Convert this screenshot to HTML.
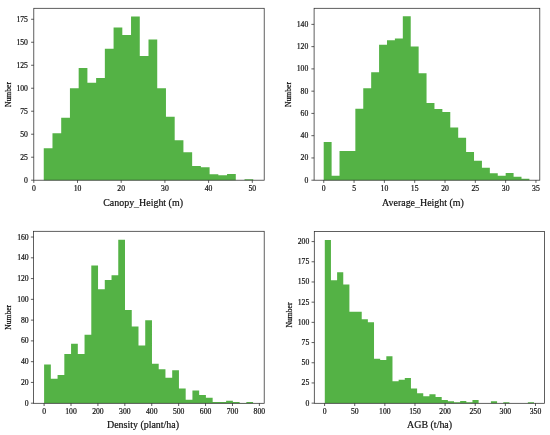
<!DOCTYPE html>
<html><head><meta charset="utf-8"><title>Histograms</title>
<style>
html,body{margin:0;padding:0;background:#fff;}
body{width:550px;height:435px;overflow:hidden;}
svg{display:block;font-family:"Liberation Serif",serif;}
text{stroke:#111;stroke-width:0.2px;}
</style></head><body>
<svg width="550" height="435" viewBox="0 0 550 435">
<rect x="0" y="0" width="550" height="435" fill="#ffffff"/>
<path d="M43.75,180.20L43.75,148.29L52.48,148.29L52.48,133.30L61.21,133.30L61.21,117.67L69.94,117.67L69.94,88.24L78.67,88.24L78.67,68.01L87.40,68.01L87.40,82.72L96.12,82.72L96.12,78.12L104.85,78.12L104.85,48.70L113.58,48.70L113.58,27.55L122.31,27.55L122.31,34.90L131.04,34.90L131.04,16.51L139.77,16.51L139.77,56.05L148.50,56.05L148.50,39.50L157.23,39.50L157.23,88.24L165.96,88.24L165.96,116.75L174.69,116.75L174.69,140.20L183.42,140.20L183.42,152.15L192.15,152.15L192.15,165.95L200.87,165.95L200.88,167.33L209.60,167.33L209.60,174.22L218.33,174.22L218.33,175.23L227.06,175.23L227.06,173.95L235.79,173.95L235.79,180.20L244.52,180.20L244.52,179.28L253.25,179.28L253.25,180.20Z" fill="#54b245"/>
<rect x="33.80" y="8.30" width="230.40" height="171.90" fill="none" stroke="#2a2a2a" stroke-width="0.75"/>
<line x1="33.80" y1="180.20" x2="33.80" y2="182.90" stroke="#2a2a2a" stroke-width="0.75"/>
<text x="33.80" y="190.70" font-size="7.7" text-anchor="middle" fill="#111">0</text>
<line x1="77.50" y1="180.20" x2="77.50" y2="182.90" stroke="#2a2a2a" stroke-width="0.75"/>
<text x="77.50" y="190.70" font-size="7.7" text-anchor="middle" fill="#111">10</text>
<line x1="121.20" y1="180.20" x2="121.20" y2="182.90" stroke="#2a2a2a" stroke-width="0.75"/>
<text x="121.20" y="190.70" font-size="7.7" text-anchor="middle" fill="#111">20</text>
<line x1="164.90" y1="180.20" x2="164.90" y2="182.90" stroke="#2a2a2a" stroke-width="0.75"/>
<text x="164.90" y="190.70" font-size="7.7" text-anchor="middle" fill="#111">30</text>
<line x1="208.60" y1="180.20" x2="208.60" y2="182.90" stroke="#2a2a2a" stroke-width="0.75"/>
<text x="208.60" y="190.70" font-size="7.7" text-anchor="middle" fill="#111">40</text>
<line x1="252.30" y1="180.20" x2="252.30" y2="182.90" stroke="#2a2a2a" stroke-width="0.75"/>
<text x="252.30" y="190.70" font-size="7.7" text-anchor="middle" fill="#111">50</text>
<line x1="31.10" y1="180.20" x2="33.80" y2="180.20" stroke="#2a2a2a" stroke-width="0.75"/>
<text x="27.95" y="182.70" font-size="7.7" text-anchor="end" fill="#111">0</text>
<line x1="31.10" y1="157.21" x2="33.80" y2="157.21" stroke="#2a2a2a" stroke-width="0.75"/>
<text x="27.95" y="159.71" font-size="7.7" text-anchor="end" fill="#111">25</text>
<line x1="31.10" y1="134.22" x2="33.80" y2="134.22" stroke="#2a2a2a" stroke-width="0.75"/>
<text x="27.95" y="136.72" font-size="7.7" text-anchor="end" fill="#111">50</text>
<line x1="31.10" y1="111.23" x2="33.80" y2="111.23" stroke="#2a2a2a" stroke-width="0.75"/>
<text x="27.95" y="113.73" font-size="7.7" text-anchor="end" fill="#111">75</text>
<line x1="31.10" y1="88.24" x2="33.80" y2="88.24" stroke="#2a2a2a" stroke-width="0.75"/>
<text x="27.95" y="90.74" font-size="7.7" text-anchor="end" fill="#111">100</text>
<line x1="31.10" y1="65.25" x2="33.80" y2="65.25" stroke="#2a2a2a" stroke-width="0.75"/>
<text x="27.95" y="67.75" font-size="7.7" text-anchor="end" fill="#111">125</text>
<line x1="31.10" y1="42.26" x2="33.80" y2="42.26" stroke="#2a2a2a" stroke-width="0.75"/>
<text x="27.95" y="44.76" font-size="7.7" text-anchor="end" fill="#111">150</text>
<line x1="31.10" y1="19.27" x2="33.80" y2="19.27" stroke="#2a2a2a" stroke-width="0.75"/>
<text x="27.95" y="21.77" font-size="7.7" text-anchor="end" fill="#111">175</text>
<text x="143.10" y="205.60" font-size="9.95" text-anchor="middle" fill="#111">Canopy_Height (m)</text>
<text transform="translate(11.40,94.50) rotate(-90)" font-size="7.6" text-anchor="middle" fill="#111">Number</text>
<path d="M323.70,180.20L323.70,141.91L331.61,141.91L331.61,175.64L339.52,175.64L339.52,150.93L347.43,150.93L347.43,150.93L355.35,150.93L355.35,108.75L363.26,108.75L363.26,88.27L371.17,88.27L371.17,72.24L379.08,72.24L379.08,44.64L386.99,44.64L386.99,40.18L394.90,40.18L394.90,38.40L402.82,38.40L402.82,16.37L410.73,16.37L410.73,46.42L418.64,46.42L418.64,73.24L426.55,73.24L426.55,102.96L434.46,102.96L434.46,108.97L442.37,108.97L442.37,112.08L450.28,112.08L450.28,127.56L458.20,127.56L458.20,137.68L466.11,137.68L466.11,151.93L474.02,151.93L474.02,160.72L481.93,160.72L481.93,167.73L489.84,167.73L489.84,173.30L497.75,173.30L497.75,175.75L505.67,175.75L505.67,172.97L513.58,172.97L513.58,176.75L521.49,176.75L521.49,178.75L529.40,178.75L529.40,180.20Z" fill="#54b245"/>
<rect x="314.10" y="8.30" width="225.70" height="171.90" fill="none" stroke="#2a2a2a" stroke-width="0.75"/>
<line x1="323.75" y1="180.20" x2="323.75" y2="182.90" stroke="#2a2a2a" stroke-width="0.75"/>
<text x="323.75" y="190.70" font-size="7.7" text-anchor="middle" fill="#111">0</text>
<line x1="354.06" y1="180.20" x2="354.06" y2="182.90" stroke="#2a2a2a" stroke-width="0.75"/>
<text x="354.06" y="190.70" font-size="7.7" text-anchor="middle" fill="#111">5</text>
<line x1="384.38" y1="180.20" x2="384.38" y2="182.90" stroke="#2a2a2a" stroke-width="0.75"/>
<text x="384.38" y="190.70" font-size="7.7" text-anchor="middle" fill="#111">10</text>
<line x1="414.69" y1="180.20" x2="414.69" y2="182.90" stroke="#2a2a2a" stroke-width="0.75"/>
<text x="414.69" y="190.70" font-size="7.7" text-anchor="middle" fill="#111">15</text>
<line x1="445.01" y1="180.20" x2="445.01" y2="182.90" stroke="#2a2a2a" stroke-width="0.75"/>
<text x="445.01" y="190.70" font-size="7.7" text-anchor="middle" fill="#111">20</text>
<line x1="475.32" y1="180.20" x2="475.32" y2="182.90" stroke="#2a2a2a" stroke-width="0.75"/>
<text x="475.32" y="190.70" font-size="7.7" text-anchor="middle" fill="#111">25</text>
<line x1="505.64" y1="180.20" x2="505.64" y2="182.90" stroke="#2a2a2a" stroke-width="0.75"/>
<text x="505.64" y="190.70" font-size="7.7" text-anchor="middle" fill="#111">30</text>
<line x1="535.95" y1="180.20" x2="535.95" y2="182.90" stroke="#2a2a2a" stroke-width="0.75"/>
<text x="535.95" y="190.70" font-size="7.7" text-anchor="middle" fill="#111">35</text>
<line x1="311.40" y1="180.20" x2="314.10" y2="180.20" stroke="#2a2a2a" stroke-width="0.75"/>
<text x="308.25" y="182.70" font-size="7.7" text-anchor="end" fill="#111">0</text>
<line x1="311.40" y1="157.94" x2="314.10" y2="157.94" stroke="#2a2a2a" stroke-width="0.75"/>
<text x="308.25" y="160.44" font-size="7.7" text-anchor="end" fill="#111">20</text>
<line x1="311.40" y1="135.68" x2="314.10" y2="135.68" stroke="#2a2a2a" stroke-width="0.75"/>
<text x="308.25" y="138.18" font-size="7.7" text-anchor="end" fill="#111">40</text>
<line x1="311.40" y1="113.42" x2="314.10" y2="113.42" stroke="#2a2a2a" stroke-width="0.75"/>
<text x="308.25" y="115.92" font-size="7.7" text-anchor="end" fill="#111">60</text>
<line x1="311.40" y1="91.16" x2="314.10" y2="91.16" stroke="#2a2a2a" stroke-width="0.75"/>
<text x="308.25" y="93.66" font-size="7.7" text-anchor="end" fill="#111">80</text>
<line x1="311.40" y1="68.90" x2="314.10" y2="68.90" stroke="#2a2a2a" stroke-width="0.75"/>
<text x="308.25" y="71.40" font-size="7.7" text-anchor="end" fill="#111">100</text>
<line x1="311.40" y1="46.64" x2="314.10" y2="46.64" stroke="#2a2a2a" stroke-width="0.75"/>
<text x="308.25" y="49.14" font-size="7.7" text-anchor="end" fill="#111">120</text>
<line x1="311.40" y1="24.38" x2="314.10" y2="24.38" stroke="#2a2a2a" stroke-width="0.75"/>
<text x="308.25" y="26.88" font-size="7.7" text-anchor="end" fill="#111">140</text>
<text x="423.00" y="206.10" font-size="9.95" text-anchor="middle" fill="#111">Average_Height (m)</text>
<text transform="translate(290.90,94.50) rotate(-90)" font-size="7.6" text-anchor="middle" fill="#111">Number</text>
<path d="M44.10,403.30L44.10,364.44L50.84,364.44L50.84,378.73L57.58,378.73L57.58,375.00L64.33,375.00L64.33,354.09L71.07,354.09L71.07,343.85L77.81,343.85L77.81,354.09L84.55,354.09L84.55,334.84L91.29,334.84L91.29,265.39L98.04,265.39L98.04,289.20L104.78,289.20L104.78,279.99L111.52,279.99L111.52,275.23L118.26,275.23L118.26,239.83L125.00,239.83L125.00,310.11L131.75,310.11L131.75,326.46L138.49,326.46L138.49,345.40L145.23,345.40L145.23,320.25L151.97,320.25L151.97,363.72L158.71,363.72L158.71,369.21L165.45,369.21L165.45,377.69L172.20,377.69L172.20,370.24L178.94,370.24L178.94,388.56L185.68,388.56L185.68,399.84L192.42,399.84L192.42,390.53L199.16,390.53L199.16,394.98L205.91,394.98L205.91,397.77L212.65,397.77L212.65,402.01L219.39,402.01L219.39,402.01L226.13,402.01L226.13,400.77L232.87,400.77L232.87,402.01L239.62,402.01L239.62,403.05L246.36,403.05L246.36,402.01L253.10,402.01L253.10,403.30Z" fill="#54b245"/>
<rect x="33.60" y="231.30" width="230.60" height="172.00" fill="none" stroke="#2a2a2a" stroke-width="0.75"/>
<line x1="44.10" y1="403.30" x2="44.10" y2="406.00" stroke="#2a2a2a" stroke-width="0.75"/>
<text x="44.10" y="413.50" font-size="7.7" text-anchor="middle" fill="#111">0</text>
<line x1="71.01" y1="403.30" x2="71.01" y2="406.00" stroke="#2a2a2a" stroke-width="0.75"/>
<text x="71.01" y="413.50" font-size="7.7" text-anchor="middle" fill="#111">100</text>
<line x1="97.92" y1="403.30" x2="97.92" y2="406.00" stroke="#2a2a2a" stroke-width="0.75"/>
<text x="97.92" y="413.50" font-size="7.7" text-anchor="middle" fill="#111">200</text>
<line x1="124.83" y1="403.30" x2="124.83" y2="406.00" stroke="#2a2a2a" stroke-width="0.75"/>
<text x="124.83" y="413.50" font-size="7.7" text-anchor="middle" fill="#111">300</text>
<line x1="151.74" y1="403.30" x2="151.74" y2="406.00" stroke="#2a2a2a" stroke-width="0.75"/>
<text x="151.74" y="413.50" font-size="7.7" text-anchor="middle" fill="#111">400</text>
<line x1="178.65" y1="403.30" x2="178.65" y2="406.00" stroke="#2a2a2a" stroke-width="0.75"/>
<text x="178.65" y="413.50" font-size="7.7" text-anchor="middle" fill="#111">500</text>
<line x1="205.56" y1="403.30" x2="205.56" y2="406.00" stroke="#2a2a2a" stroke-width="0.75"/>
<text x="205.56" y="413.50" font-size="7.7" text-anchor="middle" fill="#111">600</text>
<line x1="232.47" y1="403.30" x2="232.47" y2="406.00" stroke="#2a2a2a" stroke-width="0.75"/>
<text x="232.47" y="413.50" font-size="7.7" text-anchor="middle" fill="#111">700</text>
<line x1="259.38" y1="403.30" x2="259.38" y2="406.00" stroke="#2a2a2a" stroke-width="0.75"/>
<text x="259.38" y="413.50" font-size="7.7" text-anchor="middle" fill="#111">800</text>
<line x1="30.90" y1="403.20" x2="33.60" y2="403.20" stroke="#2a2a2a" stroke-width="0.75"/>
<text x="28.70" y="405.70" font-size="7.7" text-anchor="end" fill="#111">0</text>
<line x1="30.90" y1="382.43" x2="33.60" y2="382.43" stroke="#2a2a2a" stroke-width="0.75"/>
<text x="28.70" y="384.93" font-size="7.7" text-anchor="end" fill="#111">20</text>
<line x1="30.90" y1="361.66" x2="33.60" y2="361.66" stroke="#2a2a2a" stroke-width="0.75"/>
<text x="28.70" y="364.16" font-size="7.7" text-anchor="end" fill="#111">40</text>
<line x1="30.90" y1="340.89" x2="33.60" y2="340.89" stroke="#2a2a2a" stroke-width="0.75"/>
<text x="28.70" y="343.39" font-size="7.7" text-anchor="end" fill="#111">60</text>
<line x1="30.90" y1="320.12" x2="33.60" y2="320.12" stroke="#2a2a2a" stroke-width="0.75"/>
<text x="28.70" y="322.62" font-size="7.7" text-anchor="end" fill="#111">80</text>
<line x1="30.90" y1="299.35" x2="33.60" y2="299.35" stroke="#2a2a2a" stroke-width="0.75"/>
<text x="28.70" y="301.85" font-size="7.7" text-anchor="end" fill="#111">100</text>
<line x1="30.90" y1="278.58" x2="33.60" y2="278.58" stroke="#2a2a2a" stroke-width="0.75"/>
<text x="28.70" y="281.08" font-size="7.7" text-anchor="end" fill="#111">120</text>
<line x1="30.90" y1="257.81" x2="33.60" y2="257.81" stroke="#2a2a2a" stroke-width="0.75"/>
<text x="28.70" y="260.31" font-size="7.7" text-anchor="end" fill="#111">140</text>
<line x1="30.90" y1="237.04" x2="33.60" y2="237.04" stroke="#2a2a2a" stroke-width="0.75"/>
<text x="28.70" y="239.54" font-size="7.7" text-anchor="end" fill="#111">160</text>
<text x="143.00" y="427.70" font-size="9.95" text-anchor="middle" fill="#111">Density (plant/ha)</text>
<text transform="translate(11.40,317.30) rotate(-90)" font-size="7.6" text-anchor="middle" fill="#111">Number</text>
<path d="M324.80,403.30L324.80,239.97L330.95,239.97L330.95,280.36L337.11,280.36L337.11,272.29L343.26,272.29L343.26,284.40L349.41,284.40L349.41,311.87L355.56,311.87L355.56,311.87L361.72,311.87L361.72,319.14L367.87,319.14L367.87,322.37L374.02,322.37L374.02,358.72L380.18,358.72L380.18,359.93L386.33,359.93L386.33,356.30L392.48,356.30L392.48,381.34L398.64,381.34L398.64,379.72L404.79,379.72L404.79,378.11L410.94,378.11L410.94,388.53L417.09,388.53L417.09,393.29L423.25,393.29L423.25,396.36L429.40,396.36L429.40,394.34L435.55,394.34L435.55,397.09L441.71,397.09L441.71,399.92L447.86,399.92L447.86,401.37L454.01,401.37L454.01,402.18L460.16,402.18L460.16,400.89L466.32,400.89L466.32,402.18L472.47,402.18L472.47,399.92L478.62,399.92L478.62,403.15L484.78,403.15L484.78,403.15L490.93,403.15L490.93,401.37L497.08,401.37L497.08,403.15L503.24,403.15L503.24,402.34L509.39,402.34L509.39,403.15L515.54,403.15L515.54,403.15L521.69,403.15L521.69,403.15L527.85,403.15L527.85,402.34L534.00,402.34L534.00,403.30Z" fill="#54b245"/>
<rect x="314.30" y="231.40" width="230.10" height="171.90" fill="none" stroke="#2a2a2a" stroke-width="0.75"/>
<line x1="324.60" y1="403.30" x2="324.60" y2="406.00" stroke="#2a2a2a" stroke-width="0.75"/>
<text x="324.60" y="413.50" font-size="7.7" text-anchor="middle" fill="#111">0</text>
<line x1="354.73" y1="403.30" x2="354.73" y2="406.00" stroke="#2a2a2a" stroke-width="0.75"/>
<text x="354.73" y="413.50" font-size="7.7" text-anchor="middle" fill="#111">50</text>
<line x1="384.85" y1="403.30" x2="384.85" y2="406.00" stroke="#2a2a2a" stroke-width="0.75"/>
<text x="384.85" y="413.50" font-size="7.7" text-anchor="middle" fill="#111">100</text>
<line x1="414.98" y1="403.30" x2="414.98" y2="406.00" stroke="#2a2a2a" stroke-width="0.75"/>
<text x="414.98" y="413.50" font-size="7.7" text-anchor="middle" fill="#111">150</text>
<line x1="445.10" y1="403.30" x2="445.10" y2="406.00" stroke="#2a2a2a" stroke-width="0.75"/>
<text x="445.10" y="413.50" font-size="7.7" text-anchor="middle" fill="#111">200</text>
<line x1="475.23" y1="403.30" x2="475.23" y2="406.00" stroke="#2a2a2a" stroke-width="0.75"/>
<text x="475.23" y="413.50" font-size="7.7" text-anchor="middle" fill="#111">250</text>
<line x1="505.35" y1="403.30" x2="505.35" y2="406.00" stroke="#2a2a2a" stroke-width="0.75"/>
<text x="505.35" y="413.50" font-size="7.7" text-anchor="middle" fill="#111">300</text>
<line x1="535.48" y1="403.30" x2="535.48" y2="406.00" stroke="#2a2a2a" stroke-width="0.75"/>
<text x="535.48" y="413.50" font-size="7.7" text-anchor="middle" fill="#111">350</text>
<line x1="311.60" y1="403.15" x2="314.30" y2="403.15" stroke="#2a2a2a" stroke-width="0.75"/>
<text x="309.25" y="405.65" font-size="7.7" text-anchor="end" fill="#111">0</text>
<line x1="311.60" y1="382.95" x2="314.30" y2="382.95" stroke="#2a2a2a" stroke-width="0.75"/>
<text x="309.25" y="385.45" font-size="7.7" text-anchor="end" fill="#111">25</text>
<line x1="311.60" y1="362.76" x2="314.30" y2="362.76" stroke="#2a2a2a" stroke-width="0.75"/>
<text x="309.25" y="365.26" font-size="7.7" text-anchor="end" fill="#111">50</text>
<line x1="311.60" y1="342.56" x2="314.30" y2="342.56" stroke="#2a2a2a" stroke-width="0.75"/>
<text x="309.25" y="345.06" font-size="7.7" text-anchor="end" fill="#111">75</text>
<line x1="311.60" y1="322.37" x2="314.30" y2="322.37" stroke="#2a2a2a" stroke-width="0.75"/>
<text x="309.25" y="324.87" font-size="7.7" text-anchor="end" fill="#111">100</text>
<line x1="311.60" y1="302.17" x2="314.30" y2="302.17" stroke="#2a2a2a" stroke-width="0.75"/>
<text x="309.25" y="304.67" font-size="7.7" text-anchor="end" fill="#111">125</text>
<line x1="311.60" y1="281.98" x2="314.30" y2="281.98" stroke="#2a2a2a" stroke-width="0.75"/>
<text x="309.25" y="284.48" font-size="7.7" text-anchor="end" fill="#111">150</text>
<line x1="311.60" y1="261.78" x2="314.30" y2="261.78" stroke="#2a2a2a" stroke-width="0.75"/>
<text x="309.25" y="264.28" font-size="7.7" text-anchor="end" fill="#111">175</text>
<line x1="311.60" y1="241.59" x2="314.30" y2="241.59" stroke="#2a2a2a" stroke-width="0.75"/>
<text x="309.25" y="244.09" font-size="7.7" text-anchor="end" fill="#111">200</text>
<text x="429.60" y="428.30" font-size="9.95" text-anchor="middle" fill="#111">AGB (t/ha)</text>
<text transform="translate(292.40,315.00) rotate(-90)" font-size="7.6" text-anchor="middle" fill="#111">Number</text>
</svg>
</body></html>
